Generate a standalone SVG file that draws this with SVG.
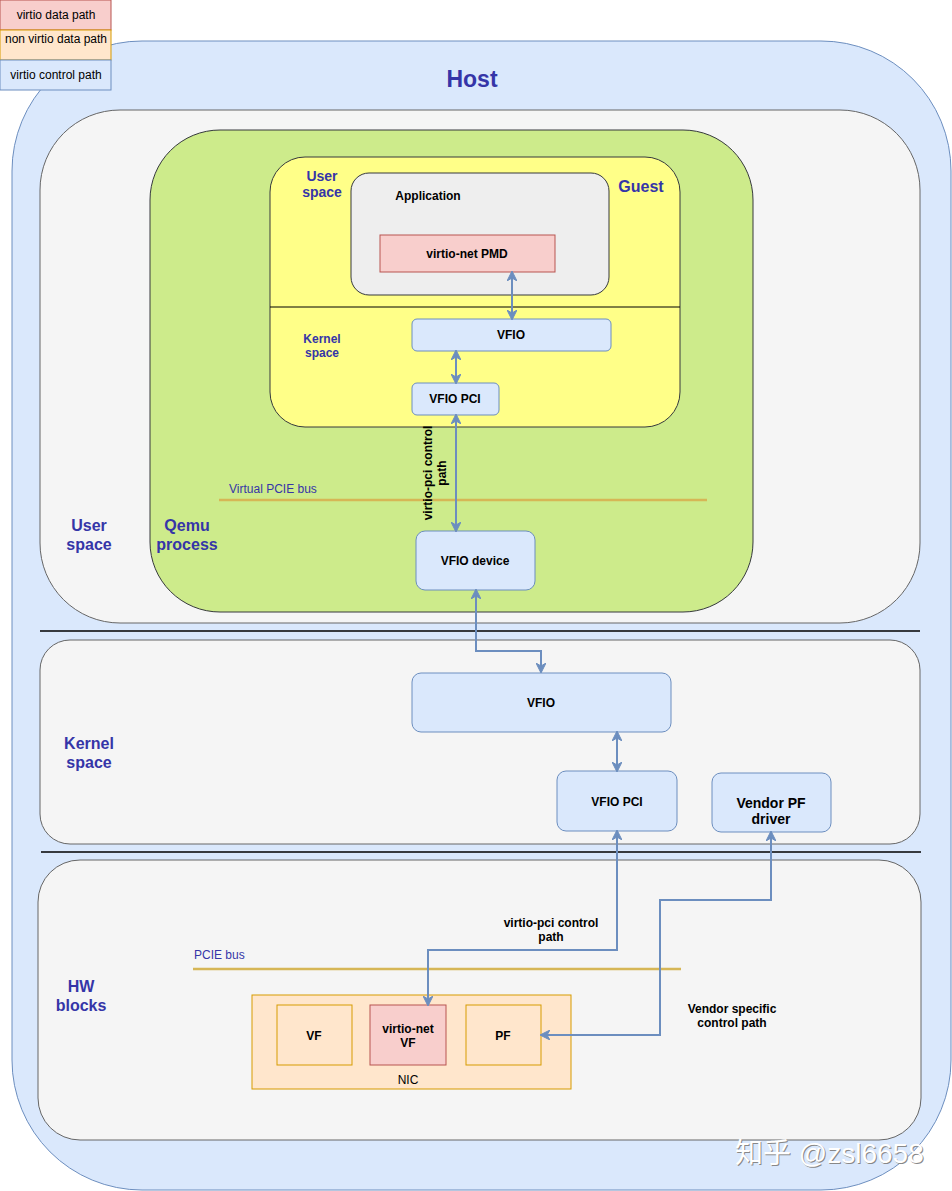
<svg xmlns="http://www.w3.org/2000/svg" width="952" height="1191" viewBox="0 0 952 1191">
<style>
text{font-family:"Liberation Sans",Arial,sans-serif;}
.lbl{fill:#3535a8;font-weight:bold;text-anchor:middle;}
.big{font-size:16px;}
.bt{font-size:12px;font-weight:bold;fill:#000;text-anchor:middle;}
.rt{font-size:12px;fill:#000;text-anchor:middle;}
.blue{fill:#dae8fc;stroke:#6c8ebf;stroke-width:1;}
.red{fill:#f8cecc;stroke:#b85450;stroke-width:1;}
.org{fill:#ffe6cc;stroke:#d79b00;stroke-width:1;}
.gray{fill:#f5f5f5;stroke:#666;stroke-width:1;}
.sep{stroke:#000;stroke-width:1.5;}
.bus{stroke:#d6b656;stroke-width:2.5;}
.conn{fill:none;stroke:#6c8ebf;stroke-width:2;marker-start:url(#ah);marker-end:url(#ah);}
</style>
<defs>
<marker id="ah" viewBox="0 0 10 10" refX="9" refY="5" markerWidth="10" markerHeight="10" markerUnits="userSpaceOnUse" orient="auto-start-reverse">
<path d="M0,0 L10,5 L0,10 L3,5 Z" fill="#6c8ebf" stroke="#6c8ebf" stroke-width="1"/>
</marker>
</defs>

<g id="host">
<rect x="12" y="41" width="939" height="1149" rx="130" ry="130" fill="#dae8fc" stroke="#6c8ebf"/>
<text x="472" y="87" class="lbl" style="font-size:23px">Host</text>
</g>

<g id="userspace">
<rect x="40" y="110" width="880" height="513" rx="80" ry="80" class="gray"/>
<text class="lbl big"><tspan x="89" y="531">User</tspan><tspan x="89" y="550">space</tspan></text>
</g>
<line x1="40" y1="631" x2="920" y2="631" class="sep"/>

<g id="kernelspace">
<rect x="40" y="640" width="880" height="204" rx="30" ry="30" class="gray"/>
<text class="lbl big"><tspan x="89" y="749">Kernel</tspan><tspan x="89" y="768">space</tspan></text>
</g>
<line x1="41" y1="852" x2="921" y2="852" class="sep"/>

<g id="hwblocks">
<rect x="38" y="860" width="883" height="280" rx="42" ry="42" class="gray"/>
<text class="lbl big"><tspan x="81" y="992">HW</tspan><tspan x="81" y="1011">blocks</tspan></text>
</g>

<g id="qemu">
<rect x="150" y="130" width="603" height="482" rx="70" ry="70" fill="#cdeb8b" stroke="#36393d"/>
<text class="lbl big"><tspan x="187" y="531">Qemu</tspan><tspan x="187" y="550">process</tspan></text>
</g>

<g id="guest">
<rect x="270" y="157" width="410" height="270" rx="35" ry="35" fill="#ffff88" stroke="#36393d"/>
<line x1="270" y1="307" x2="680" y2="307" stroke="#000" stroke-width="1"/>
<text x="641" y="192" class="lbl big">Guest</text>
<text class="lbl" style="font-size:14px"><tspan x="322" y="181">User</tspan><tspan x="322" y="197">space</tspan></text>
<text class="lbl" style="font-size:12px"><tspan x="322" y="343">Kernel</tspan><tspan x="322" y="357">space</tspan></text>
</g>

<g id="application">
<rect x="351" y="173" width="258" height="122" rx="18" ry="18" fill="#eeeeee" stroke="#36393d"/>
<text x="428" y="200" class="bt">Application</text>
</g>

<g id="pmd">
<rect x="380" y="235" width="175" height="37" class="red"/>
<text x="467" y="258" class="bt">virtio-net PMD</text>
</g>

<g id="guest-vfio">
<rect x="412" y="319" width="199" height="32" rx="5" ry="5" class="blue"/>
<text x="511" y="339" class="bt">VFIO</text>
</g>

<g id="guest-vfiopci">
<rect x="412" y="383" width="87" height="32" rx="5" ry="5" class="blue"/>
<text x="455" y="403" class="bt">VFIO PCI</text>
</g>

<g id="virtual-bus">
<line x1="219" y1="500" x2="707" y2="500" class="bus"/>
<text x="229" y="493" style="font-size:12px;fill:#3535a8">Virtual PCIE bus</text>
</g>

<g id="vfio-device">
<rect x="416" y="531" width="119" height="59" rx="9" ry="9" class="blue"/>
<text x="475" y="565" class="bt">VFIO device</text>
</g>

<g id="host-vfio">
<rect x="412" y="673" width="259" height="59" rx="9" ry="9" class="blue"/>
<text x="541" y="707" class="bt">VFIO</text>
</g>

<g id="host-vfiopci">
<rect x="557" y="771" width="120" height="60" rx="9" ry="9" class="blue"/>
<text x="617" y="806" class="bt">VFIO PCI</text>
</g>

<g id="vendor-pf-driver">
<rect x="712" y="773" width="119" height="59" rx="9" ry="9" class="blue"/>
<text x="771" y="808" style="font-size:14px;font-weight:bold;text-anchor:middle">Vendor PF</text>
<text x="771" y="824" style="font-size:14px;font-weight:bold;text-anchor:middle">driver</text>
</g>

<g id="pcie-bus">
<line x1="193" y1="969" x2="681" y2="969" class="bus"/>
<text x="194" y="959" style="font-size:12px;fill:#3535a8">PCIE bus</text>
</g>

<g id="nic">
<rect x="252" y="995" width="319" height="94" class="org"/>
<text x="408" y="1084" class="rt">NIC</text>
</g>

<g id="vf">
<rect x="277" y="1005" width="75" height="60" class="org"/>
<text x="314" y="1040" class="bt">VF</text>
</g>

<g id="virtio-net-vf">
<rect x="370" y="1005" width="76" height="60" class="red"/>
<text class="bt"><tspan x="408" y="1033">virtio-net</tspan><tspan x="408" y="1047">VF</tspan></text>
</g>

<g id="pf">
<rect x="466" y="1005" width="75" height="60" class="org"/>
<text x="503" y="1040" class="bt">PF</text>
</g>

<g id="connectors">
<line x1="512" y1="272" x2="512" y2="319" class="conn"/>
<line x1="456" y1="351" x2="456" y2="383" class="conn"/>
<line x1="456" y1="415" x2="456" y2="531" class="conn"/>
<polyline points="476,590 476,651 541,651 541,672" class="conn"/>
<line x1="617" y1="732" x2="617" y2="771" class="conn"/>
<polyline points="617,831 617,950 428,950 428,1005" class="conn"/>
<polyline points="771,832 771,900 660,900 660,1035 541,1035" class="conn"/>
<text transform="translate(432,473) rotate(-90)" class="bt"><tspan x="0" y="0">virtio-pci control</tspan><tspan x="0" y="14">path</tspan></text>
<text class="bt"><tspan x="551" y="927">virtio-pci control</tspan><tspan x="551" y="941">path</tspan></text>
<text class="bt"><tspan x="732" y="1013">Vendor specific</tspan><tspan x="732" y="1027">control path</tspan></text>
</g>

<g id="legend">
<rect x="0" y="0" width="111" height="30" class="red"/>
<text x="56" y="19" class="rt">virtio data path</text>
<rect x="0" y="30" width="111" height="30" class="org"/>
<text x="56" y="43" class="rt">non virtio data path</text>
<rect x="0" y="60" width="111" height="30" class="blue"/>
<text x="56" y="79" class="rt">virtio control path</text>
</g>

<g id="watermark">
<text x="736" y="1164" style="font-family:'Liberation Sans','Noto Sans CJK SC',sans-serif;font-size:28px;fill:#888">知乎 @zsl6658</text>
<text x="735" y="1163" style="font-family:'Liberation Sans','Noto Sans CJK SC',sans-serif;font-size:28px;fill:#ffffff">知乎 @zsl6658</text>
</g>
</svg>
